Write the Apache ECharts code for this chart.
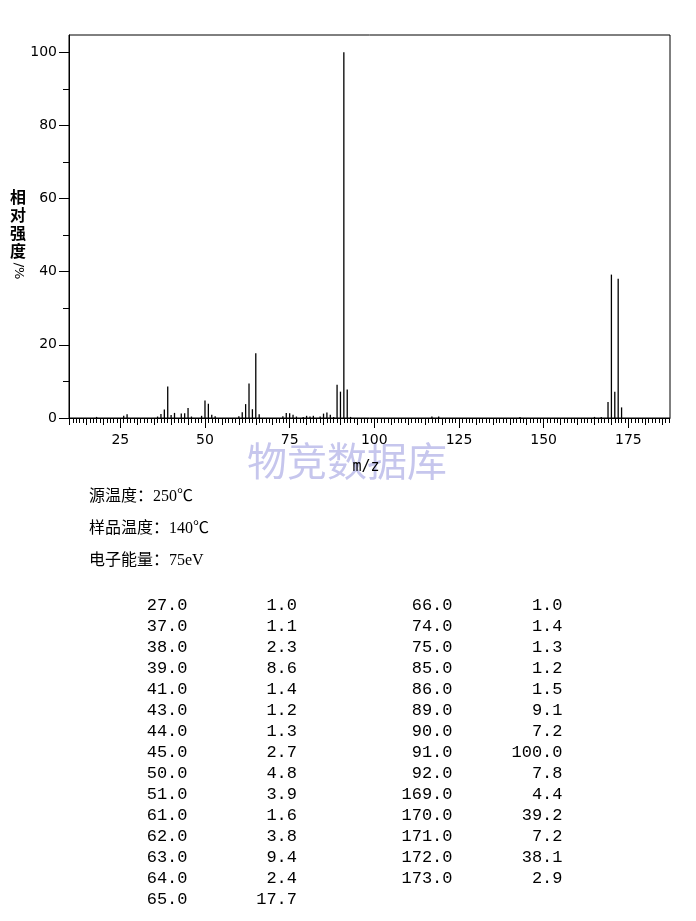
<!DOCTYPE html>
<html>
<head>
<meta charset="utf-8">
<script src="https://cdn.jsdelivr.net/npm/echarts@6/dist/echarts.min.js"></script>
<style>
html,body{margin:0;padding:0;background:#fff;}
#main{width:696px;height:921px;}
</style>
</head>
<body>
<div id="main"></div>
<script>
// m/z of each plotted peak and its relative intensity (%)
const mzValues = [18,26,27,36,37,38,39,40,41,43,44,45,46,49,50,51,52,53,60,61,62,63,64,65,66,73,74,75,76,77,79,80,81,82,84,85,86,87,88,89,90,91,92,93,117,119,143,165,167,169,170,171,172,173];
const intensities = [0.3,0.6,1.0,0.4,1.1,2.3,8.6,0.8,1.4,1.2,1.3,2.7,0.4,0.6,4.8,3.9,0.9,0.5,0.5,1.6,3.8,9.4,2.4,17.7,1.0,0.5,1.4,1.3,0.9,0.4,0.3,0.6,0.4,0.6,0.4,1.2,1.5,0.9,0.3,9.1,7.2,100.0,7.8,0.3,0.4,0.4,0.3,0.3,0.3,4.4,39.2,7.2,38.1,2.9];
const xLabelTicks = [25,50,75,100,125,150,175];
const yLabelTicks = [0,20,40,60,80,100];
const yMinorTicks = [10,30,50,70,90];
const infoLines = ['源温度：250℃', '样品温度：140℃', '电子能量：75eV'];
const yAxisTitle = ['相','对','强','度'];
const watermark = '物竞数据库';
const xAxisTitle = 'm/z';

const X_MIN = 9.85, X_MAX = 187.3, Y_MAX = 104.7;
const minorX = [], midX = [];
for (let v = 10; v <= 187; v++) { minorX.push(v); if (v % 5 === 0 && v % 25 !== 0) midX.push(v); }

const chart = echarts.init(document.getElementById('main'));
const seriesData = mzValues.map((m, i) => [m, intensities[i]]);

// table (peaks >= 1.0)
const tableRows = seriesData.filter(d => d[1] >= 1.0);
const graphics = [];
const mono = '17px "Liberation Mono", monospace';
tableRows.forEach((d, i) => {
  const col = i < 15 ? 0 : 1;
  const row = i < 15 ? i : i - 15;
  const y = 605.5 + row * 21;
  const xa = col === 0 ? 187.5 : 452.5;
  const xb = col === 0 ? 297 : 562.5;
  graphics.push({type:'text', style:{text:d[0].toFixed(1), x:xa, y:y, textAlign:'right', textVerticalAlign:'middle', font:mono, fill:'#000'}});
  graphics.push({type:'text', style:{text:d[1].toFixed(1), x:xb, y:y, textAlign:'right', textVerticalAlign:'middle', font:mono, fill:'#000'}});
});
infoLines.forEach((t, i) => {
  graphics.push({type:'text', style:{text:t, x:89, y:497 + i*32, textVerticalAlign:'middle', font:'16px "Liberation Serif", "Noto Sans CJK SC", serif', fill:'#000'}});
});
// watermark
graphics.push({type:'text', z:-1, style:{text:watermark, x:347, y:461, textAlign:'center', textVerticalAlign:'middle', font:'40px "Noto Sans CJK SC", sans-serif', fill:'rgba(160,160,225,0.6)'}});
// x axis title
graphics.push({type:'text', z:10, style:{text:xAxisTitle, x:366, y:467, textAlign:'center', textVerticalAlign:'middle', font:'15px "DejaVu Sans Mono", monospace', fill:'#000'}});
// y axis title
graphics.push({type:'text', style:{text:yAxisTitle.join('\n'), x:18, y:188, textAlign:'center', textVerticalAlign:'top', font:'bold 16px "Noto Sans CJK SC", sans-serif', lineHeight:18, fill:'#000'}});
graphics.push({type:'text', x:18, y:271, rotation:-Math.PI/2, style:{text:'/%', x:0, y:0, textAlign:'center', textVerticalAlign:'middle', font:'13px "DejaVu Sans", sans-serif', fill:'#000'}});

const baseX = {type:'value', min:X_MIN, max:X_MAX, position:'bottom', splitLine:{show:false}, axisLine:{show:false}, axisLabel:{show:false}, axisTick:{show:false}};

const option = {
  animation:false,
  backgroundColor:'#fff',
  grid:{left:69, right:26, top:35, bottom:503, show:true, borderColor:'#000', borderWidth:1, backgroundColor:'transparent'},
  xAxis:[
    Object.assign({}, baseX, {axisLine:{show:true, lineStyle:{color:'#000', width:1}}, axisTick:{show:true, customValues:minorX, length:5, lineStyle:{color:'#000'}}}),
    Object.assign({}, baseX, {axisTick:{show:true, customValues:midX, length:7, lineStyle:{color:'#000'}}}),
    Object.assign({}, baseX, {axisTick:{show:true, customValues:xLabelTicks, length:10, lineStyle:{color:'#000'}},
      axisLabel:{show:true, customValues:xLabelTicks, margin:15, color:'#000', fontSize:14, fontFamily:'DejaVu Sans'}})
  ],
  yAxis:[
    {type:'value', min:0, max:Y_MAX, splitLine:{show:false}, axisLine:{show:true, lineStyle:{color:'#000'}},
      axisTick:{show:true, customValues:yLabelTicks, length:10, lineStyle:{color:'#000'}},
      axisLabel:{show:true, customValues:yLabelTicks, margin:12, color:'#000', fontSize:14, fontFamily:'DejaVu Sans'}},
    {type:'value', min:0, max:Y_MAX, position:'left', splitLine:{show:false}, axisLine:{show:false}, axisLabel:{show:false},
      axisTick:{show:true, customValues:yMinorTicks, length:6, lineStyle:{color:'#000'}}}
  ],
  series:[{
    type:'bar', xAxisIndex:0, yAxisIndex:0, data:seriesData, barWidth:1.3,
    itemStyle:{color:'#000'}, silent:true
  }],
  graphic:graphics
};
chart.setOption(option);
</script>
</body>
</html>
